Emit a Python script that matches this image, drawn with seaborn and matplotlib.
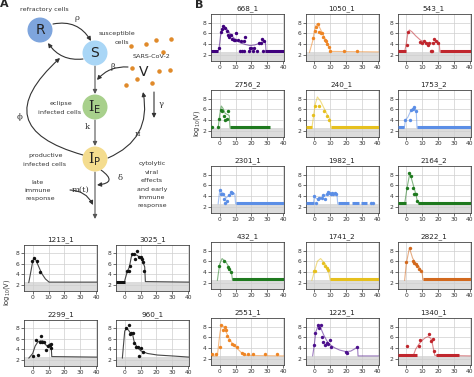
# Viral load fits (log10 V) per patient + within-host model schematic
import numpy as np
import matplotlib
matplotlib.use("Agg")
import matplotlib.pyplot as plt
import seaborn as sns
from matplotlib.patches import Circle, FancyArrowPatch

sns.set_style("ticks", {"axes.grid": True, "grid.color": "#cfcfcf",
                        "axes.edgecolor": "#444444"})
plt.rcParams['font.family'] = ['DejaVu Sans']

LOD_TOP = 2.5        # top of the grey "below detection" band
CENSOR_LEVEL = 2.6   # where censored observations sit

# ---------------- panel A, bottom: four example patients (black) ----------------
left_ids = ['1213_1', '3025_1', '2299_1', '960_1']
left_obs_t = [[-0.2, 0.8, 2.9, 4.4],
              [1.3, 2.5, 3.4, 4.6, 5.7, 6.7, 8.0, 8.8, 10.1, 10.9, 11.4, 12.2],
              [0.0, 1.9, 3.2, 4.4, 5.1, 6.1, 6.9, 8.2, 9.5, 10.7, 11.2, 11.6],
              [1.1, 2.5, 3.4, 4.2, 5.3, 6.1, 7.4, 8.4, 9.3, 10.1, 11.4]]
left_obs_v = [[6.5, 7.1, 6.6, 4.5],
              [4.7, 4.7, 5.6, 7.9, 7.9, 6.9, 8.4, 7.4, 7.3, 6.9, 6.3, 4.6],
              [2.8, 5.7, 3.0, 5.4, 6.5, 5.4, 5.4, 3.8, 4.6, 4.8, 5.0, 4.3],
              [8.1, 8.6, 6.9, 7.1, 7.1, 5.2, 4.5, 4.4, 2.8, 4.2, 3.4]]
left_fit_t = [[-2.5, -1, 0, 0.8, 2, 3, 4, 5, 6, 8, 10.3, 40.5],
              [0, 1.3, 3, 4.2, 5.5, 8, 10.1, 11.4, 12.6, 13.0, 40.5],
              [-2.5, 0, 1.5, 3.2, 4.8, 6.5, 7.8, 9, 10.7, 11.6, 12.0, 40.5],
              [-1.5, 0, 1.3, 2.5, 3.8, 5, 5.9, 7.6, 10.1, 14.3, 20.6, 31, 40.5]]
left_fit_v = [[2.4, 4.8, 6.5, 7.1, 6.7, 6.0, 5.3, 4.6, 4.0, 3.1, 2.5, 2.5],
              [2.8, 4.2, 5.5, 7.4, 7.9, 7.6, 7.0, 6.4, 5.4, 2.6, 2.5],
              [2.3, 3.2, 4.6, 5.4, 5.6, 5.6, 5.0, 4.6, 5.0, 4.8, 2.6, 2.5],
              [2.3, 7.5, 8.0, 7.6, 7.0, 6.8, 5.5, 4.5, 3.7, 3.2, 2.9, 2.7, 2.5]]
left_censored = [[], [(-5.5, 0.0)], [], []]

# ---------------- panel B: fifteen patients, coloured by cluster ----------------
right_ids = ['668_1', '1050_1', '543_1',
             '2756_2', '240_1', '1753_2',
             '2301_1', '1982_1', '2164_2',
             '432_1', '1741_2', '2822_1',
             '2551_1', '1225_1', '1340_1']
right_colors = ['#3f007d', '#ee8524', '#c0262d',
                '#1f7a1f', '#e6c01e', '#5b8ee6',
                '#5b8ee6', '#5b8ee6', '#1f7a1f',
                '#1f7a1f', '#e6c01e', '#d2691e',
                '#ee8524', '#4b0f8c', '#c0262d']
right_obs_t = [
    [-0.6, 0.6, 1.4, 2.3, 3.3, 4.3, 5.2, 5.8, 6.8, 7.6, 8.9, 9.7, 10.5, 11.3, 13.4, 15.0,
     15.9, 13.0, 14.0, 15.1, 18.4, 19.2, 20.0, 21.0, 21.6, 23.3, 25.0, 25.8, 26.6, 27.4, 28.2],
    [-0.8, 0.4, 1.2, 2.1, 3.3, 4.2, 5.0, 5.8, 6.7, 7.5, 8.3, 9.2, 10.0, 19.0, 27.0],
    [0.4, 1.0, 8.7, 10.0, 11.1, 12.4, 13.6, 14.4, 15.3, 16.0, 17.0, 17.7, 19.0, 19.8],
    [-4.7, -1.4, -0.6, 0.8, 1.6, 2.7, 3.5, 4.3, 5.2],
    [-0.8, 0.4, 2.9, 6.2, 8.3, 9.2],
    [-0.6, 2.5, 2.9, 4.1, 4.9, 6.2],
    [0.0, 0.6, 1.9, 2.7, 3.5, 4.3, 6.0, 6.8, 7.6],
    [0.0, 1.25, 2.5, 3.3, 4.6, 5.4, 7.0, 7.9, 8.75, 9.6, 10.4, 11.3, 12.1, 12.9, 13.75, 35.5, 37.0],
    [0.8, 2.0, 3.3, 4.1, 5.2, 6.2, 7.0],
    [-0.5, 3.0, 5.0, 5.8, 6.8],
    [-0.4, 0.6, 5.4, 6.7, 7.9, 8.75],
    [0.0, 2.1, 4.1, 4.9, 6.2, 7.0, 8.2, 9.5],
    [-4.8, -2.1, 0.0, 1.0, 2.3, 3.2, 4.0, 4.8, 6.1, 7.8, 9.0, 10.7, 14.1, 15.0, 17.9, 20.8, 28.4, 36.4],
    [0.0, 0.8, 2.1, 2.9, 4.2, 5.0, 5.8, 7.1, 7.9, 8.75, 10.0, 10.8, 20.0, 20.8, 27.1],
    [0.6, 8.0, 8.8, 14.4, 15.8, 16.6, 17.6],
]
right_obs_v = [
    [3.2, 6.3, 6.8, 7.4, 7.0, 6.5, 5.7, 5.3, 5.6, 4.9, 4.7, 4.8, 6.0, 4.7, 4.6, 4.6,
     5.3, 2.7, 2.7, 2.7, 2.7, 3.2, 3.2, 2.7, 3.3, 2.7, 4.1, 4.2, 4.9, 2.7, 4.5],
    [5.1, 6.5, 7.2, 7.8, 6.3, 6.0, 6.0, 5.2, 4.8, 4.6, 4.0, 3.4, 2.7, 2.7, 2.7],
    [3.8, 6.3, 4.4, 4.1, 4.6, 4.2, 3.8, 4.2, 2.7, 2.7, 4.2, 4.9, 4.6, 4.1],
    [2.6, 2.6, 4.1, 5.9, 5.7, 4.8, 4.0, 4.2, 5.7],
    [4.9, 6.6, 6.6, 5.6, 4.7, 4.0],
    [4.0, 4.0, 5.8, 6.1, 6.4, 5.6],
    [5.1, 4.4, 4.4, 3.4, 2.7, 3.1, 4.2, 4.8, 4.6],
    [4.0, 2.6, 3.4, 3.6, 3.7, 4.2, 3.5, 4.4, 4.7, 4.5, 4.4, 4.5, 4.3, 4.5, 4.4, 2.6, 2.6],
    [5.4, 8.25, 7.8, 5.4, 4.4, 4.3, 3.0],
    [5.2, 6.0, 5.0, 4.6, 3.9],
    [4.1, 4.2, 5.7, 5.2, 4.7, 4.3],
    [5.9, 8.5, 6.0, 5.6, 5.4, 5.2, 4.5, 4.2],
    [2.8, 2.8, 4.2, 8.35, 7.3, 7.9, 7.4, 6.2, 5.4, 4.8, 4.6, 4.2, 3.1, 2.8, 2.8, 2.8, 2.8, 2.8],
    [4.5, 6.8, 8.2, 7.7, 8.2, 6.1, 5.2, 4.5, 5.0, 4.8, 5.4, 4.1, 3.15, 3.0, 4.2],
    [4.3, 4.3, 5.4, 6.6, 5.3, 5.6, 3.4],
]
right_fit_t = [
    [-1.5, -0.5, 0.5, 1.5, 3, 5, 7, 10, 13, 16, 19, 22, 25, 28, 28.8, 29.2],
    [-3.0, -1, 0, 1, 2, 3.5, 5, 7, 9, 10.5, 40.5],
    [-1, 0, 1, 2, 3.5, 6, 9, 12, 15, 18, 20, 20.8, 21.2],
    [-1, 0, 1, 2, 3.5, 5, 6, 6.5],
    [-1.5, -0.5, 0.5, 2, 4, 6, 8, 10, 10.5],
    [-1.2, -0.5, 1, 3, 5, 6.3, 6.8],
    [-1, 0, 2, 4, 6, 8, 9.5, 10],
    [-0.5, 0, 2, 5, 8, 10, 13, 14.3, 14.8],
    [-1, 0.5, 2.3, 4, 6, 7, 8],
    [-1.5, 0, 1.5, 4, 6, 7.5, 8],
    [-1.5, 0, 2, 4, 7, 9, 10],
    [-1, 0, 2, 4, 6, 8, 10, 10.5],
    [-5.5, -1.5, 0, 1, 2.5, 4, 6, 8, 10, 12, 14, 15, 40.5],
    [-1, 0, 1, 2.5, 4, 6, 8, 10, 13, 16, 20, 23, 26, 27.3, 27.6, 40.5],
    [-5.5, 4.5, 6, 8, 10, 12, 13.7, 15.5, 16.5, 17.3, 18, 40.5],
]
right_fit_v = [
    [2.4, 3.0, 5.5, 6.8, 7.3, 6.6, 5.7, 4.8, 4.2, 3.9, 3.7, 3.8, 4.1, 4.5, 4.3, 2.5],
    [2.4, 4.5, 6.3, 7.4, 7.8, 7.0, 6.1, 4.9, 3.6, 2.6, 2.5],
    [2.5, 4.0, 6.0, 6.6, 6.3, 5.5, 4.7, 4.3, 4.1, 4.3, 4.4, 4.2, 2.5],
    [2.5, 5.0, 6.6, 6.2, 5.2, 5.0, 4.8, 2.5],
    [2.5, 4.5, 6.8, 8.3, 7.5, 6.3, 5.1, 4.1, 2.5],
    [2.5, 4.0, 4.5, 5.8, 6.4, 5.7, 2.5],
    [2.5, 5.0, 4.5, 3.6, 4.2, 4.7, 4.4, 2.5],
    [2.5, 3.8, 3.4, 3.8, 4.3, 4.5, 4.5, 4.4, 2.5],
    [2.5, 5.5, 8.3, 6.5, 4.4, 3.0, 2.5],
    [2.4, 5.5, 6.5, 5.8, 4.8, 3.8, 2.5],
    [2.4, 4.0, 6.0, 6.5, 5.5, 4.2, 2.5],
    [2.4, 5.5, 8.5, 6.6, 5.6, 5.0, 4.0, 2.5],
    [2.5, 2.5, 6.5, 8.3, 8.0, 7.0, 5.7, 4.8, 4.2, 3.6, 3.0, 2.6, 2.5],
    [2.5, 4.5, 7.0, 8.2, 7.8, 6.4, 5.3, 4.6, 4.0, 3.6, 3.3, 3.4, 3.9, 4.2, 2.5, 2.5],
    [2.5, 2.6, 3.8, 4.7, 5.4, 5.9, 6.1, 5.8, 4.8, 3.5, 2.6, 2.5],
]
right_censored = [
    [(-5.5, -1.0), (28.5, 40.5)],
    [],
    [(-5.5, -0.3), (21.0, 40.5)],
    [(6.6, 31.5)],
    [(-5.5, -1.5), (10.8, 40.5)],
    [(-5.5, -1.2), (6.8, 40.5)],
    [(10.0, 40.5)],
    [(-5.5, 0.0), (15.0, 22.0), (23.5, 28.0), (29.5, 33.0)],
    [(-5.5, 0.0), (7.5, 40.5)],
    [(8.0, 40.5)],
    [(10.0, 40.5)],
    [(10.5, 40.5)],
    [],
    [],
    [(-5.0, 6.5), (18.5, 33.5)],
]

x_ticks = [0, 10, 20, 30, 40]
y_ticks = [2, 4, 6, 8]

W, H = 474, 377
fig = plt.figure(figsize=(W / 100, H / 100), dpi=100)


def px_axes(x0, y0, w, h):
    return fig.add_axes([x0 / W, 1 - (y0 + h) / H, w / W, h / H])


def draw_panel(ax, title, ot, ov, ft, fv, cens, pcol, lcol, lalpha):
    ax.axhspan(0, LOD_TOP, color='#dcdcdc', lw=0, zorder=0)
    sns.lineplot(x=ft, y=fv, ax=ax, color=lcol, lw=0.8, alpha=lalpha,
                 estimator=None, sort=False, zorder=2)
    for a, b in cens:
        ax.plot([a, b], [CENSOR_LEVEL, CENSOR_LEVEL], color=pcol, lw=2.2,
                solid_capstyle='butt', zorder=3)
    sns.scatterplot(x=ot, y=ov, ax=ax, color=pcol, s=6, linewidth=0, zorder=4)
    ax.set_xlim(-5.5, 40.5)
    ax.set_ylim(0.8, 9.6)
    ax.set_xticks(x_ticks)
    ax.set_yticks(y_ticks)
    ax.set_xlabel('')
    ax.set_ylabel('')
    ax.set_title(title, fontsize=5.2, pad=2.5, color='#222222')
    ax.tick_params(labelsize=4.3, length=2, width=0.5, pad=1.2, colors='#333333')
    ax.grid(True, lw=0.5, color='#cfcfcf')
    for s in ax.spines.values():
        s.set_linewidth(0.6)


# ---------------- schematic (panel A top) ----------------
axd = fig.add_axes([0, 0, 1, 1])
axd.set_xlim(0, W)
axd.set_ylim(H, 0)
axd.axis('off')

for (cx, cy, col) in [(40, 30, '#7ea5dd'), (95, 53, '#a9d6f6'),
                      (95, 107, '#a8d08c'), (95, 159, '#f4dc8e')]:
    axd.add_patch(Circle((cx, cy), 12.5, facecolor=col, edgecolor='none', zorder=2))

axd.text(40, 30, 'R', fontsize=10, ha='center', va='center', color='#222', zorder=3)
axd.text(95, 53, 'S', fontsize=10, ha='center', va='center', color='#222', zorder=3)
axd.text(95, 107, r'I$_{\rm E}$', fontsize=10, ha='center', va='center', color='#222',
         family='DejaVu Serif', zorder=3)
axd.text(95, 159, r'I$_{\rm P}$', fontsize=10, ha='center', va='center', color='#222',
         family='DejaVu Serif', zorder=3)
axd.text(144, 72, 'V', fontsize=10, ha='center', va='center', color='#222')

virus_x = [131, 146, 156, 171, 163, 132, 159, 170, 126, 137, 152]
virus_y = [46, 44, 40, 39, 52, 68, 71, 70, 85, 79, 83]
axd.scatter(virus_x, virus_y, s=5, color='#e08a2a', zorder=2)

tk = dict(fontsize=4.6, ha='center', va='center', color='#333333')
axd.text(44, 9, 'refractory cells', **tk)
axd.text(117, 34, 'susceptible', **tk)
axd.text(122, 43, 'cells', **tk)
axd.text(152, 57, 'SARS-CoV-2', **tk)
axd.text(61, 104, 'eclipse', **tk)
axd.text(60, 113, 'infected cells', **tk)
axd.text(46, 155, 'productive', **tk)
axd.text(45, 164, 'infected cells', **tk)
for i, line in enumerate(['cytolytic', 'viral', 'effects', 'and early', 'immune', 'response']):
    axd.text(152, 164 + 8.4 * i, line, **tk)
for i, line in enumerate(['late', 'immune', 'response']):
    axd.text(38 + (2 if i == 2 else 0), 182 + 8.4 * i, line, **tk)

gk = dict(fontsize=6, ha='center', va='center', color='#333333', family='DejaVu Serif')
axd.text(77, 18, 'ρ', **gk)
axd.text(113, 67, 'β', **gk)
axd.text(161, 104, 'γ', **gk)
axd.text(20, 117, 'ϕ', **gk)
axd.text(87, 127, 'k', **gk)
axd.text(137, 134, 'π', **gk)
axd.text(120, 178, 'δ', **gk)
axd.text(81, 190, 'm(t)', **gk)


def arrow(p0, p1, rad=0.0, col='#333333'):
    axd.add_patch(FancyArrowPatch(p0, p1, connectionstyle=f"arc3,rad={rad}",
                                  arrowstyle='-|>', mutation_scale=6, lw=0.8,
                                  color=col, zorder=1, shrinkA=0, shrinkB=0))


arrow((95, 66), (95, 94), col='#555555')
arrow((95, 120), (95, 146), col='#555555')
arrow((95, 172), (95, 219), col='#555555')
arrow((53, 24), (91, 41), rad=-0.35)
arrow((83, 59), (48, 43), rad=-0.3)
arrow((128, 67), (97, 80), rad=0.25)
arrow((154, 92), (154, 118))
arrow((83, 155), (60, 58), rad=-0.9)
arrow((108, 158), (143, 92), rad=0.4)
arrow((101, 170), (97, 185), rad=-1.3)
arrow((70, 190), (93, 205), rad=-0.3)

axd.text(4, 4, 'A', fontsize=8, fontweight='bold', ha='center', va='center')
axd.text(199, 5, 'B', fontsize=8, fontweight='bold', ha='center', va='center')

# ---------------- panel A bottom axes ----------------
left_x = [24, 116]
left_y = [245, 320]
for i, pid in enumerate(left_ids):
    ax = px_axes(left_x[i % 2], left_y[i // 2], 73, 46)
    draw_panel(ax, pid, left_obs_t[i], left_obs_v[i], left_fit_t[i], left_fit_v[i],
               left_censored[i], '#111111', '#333333', 0.9)
fig.text(7 / W, 1 - 292 / H, r'log$_{10}$(V)', rotation=90, fontsize=4.8,
         ha='center', va='center', color='#333333')

# ---------------- panel B axes ----------------
right_x = [211, 305.5, 397.5]
right_y = [14, 90, 166, 242, 318]
for i, pid in enumerate(right_ids):
    ax = px_axes(right_x[i % 3], right_y[i // 3], 73, 47)
    draw_panel(ax, pid, right_obs_t[i], right_obs_v[i], right_fit_t[i], right_fit_v[i],
               right_censored[i], right_colors[i], right_colors[i], 0.55)
fig.text(197 / W, 1 - 123 / H, r'log$_{10}$(V)', rotation=90, fontsize=4.8,
         ha='center', va='center', color='#333333')

fig.savefig('out.png', dpi=100)
